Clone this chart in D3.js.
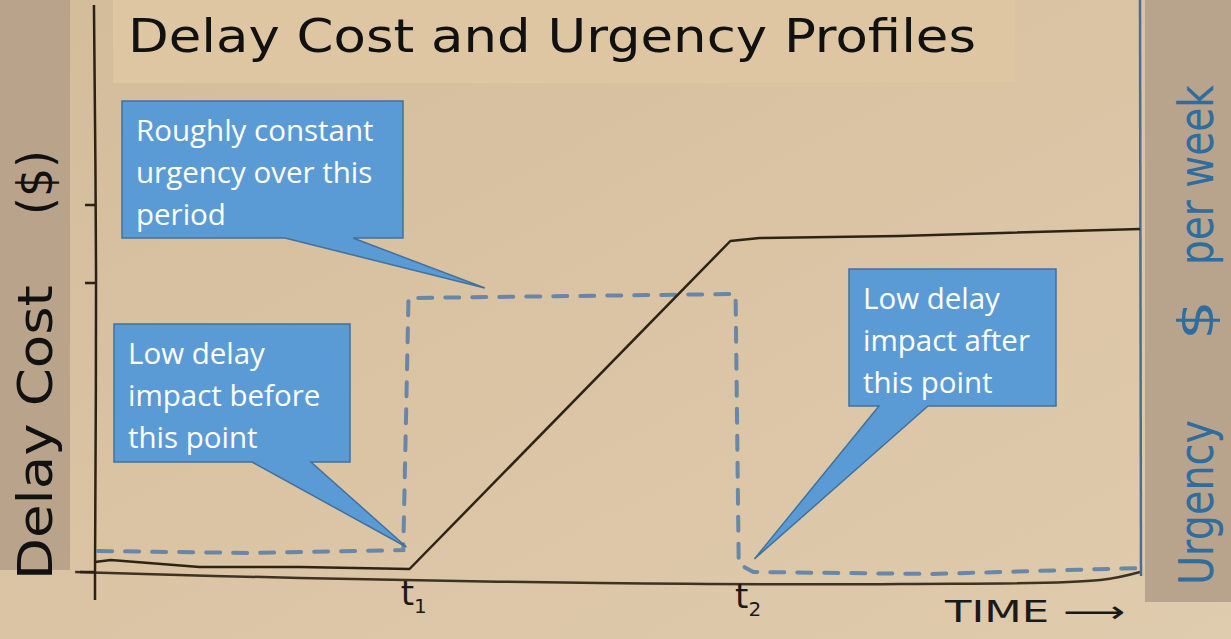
<!DOCTYPE html>
<html>
<head>
<meta charset="utf-8">
<script src="https://cdn.jsdelivr.net/npm/d3@7"></script>
<style>
  html, body { margin: 0; padding: 0; background: #d8c2a2; }
  svg { display: block; }
</style>
</head>
<body>
<svg id="chart" width="1231" height="639"></svg>
<script>
// time runs 0..100 across the sketch, both y series on a 0..100 scale
const delayCost = [
  [0, 2.6], [1.5, 3.0], [10, 1.6], [19.6, 1.6], [30.1, 1.2],
  [60.8, 66.8], [63.6, 67.4], [77, 67.8], [100, 69.2]
];
const urgency = [
  [0.3, 4.8], [15, 4.4], [29.5, 5.0], [30, 55.4],
  [61.3, 56.2], [61.6, 2.2], [63, 0.6], [80, 0.2], [100, 1.4]
];
const timeAxisPts = [[-1.9, 0.6], [19.6, -0.6], [48.3, -1.6], [77, -1.8], [96.2, -1.0], [100, 0.6]];
const costAxisPts = [[-0.1, 114], [0.1, 60], [0, 0], [0, -5]];
const costTicks = [74, 58.4];
const timeTicks = [{ t: 30.5, sub: '1' }, { t: 62.5, sub: '2' }];

const title = 'Delay Cost and Urgency Profiles';
const leftLabel = ['Delay Cost', '($)'];
const rightLabel = ['Urgency', '$', 'per week'];
const timeLabel = 'TIME \u27F6';

const calloutText = [
  ['Roughly constant', 'urgency over this', 'period'],
  ['Low delay', 'impact before', 'this point'],
  ['Low delay', 'impact after', 'this point']
];
const calloutTips = [[37.3, 57.4], [29.8, 5.6], [63.1, 3.2]];

// layout of the callout boxes (px)
const calloutBoxes = [
  { x: 122, y: 101, w: 281, h: 137, b0: 285, b1: 353 },
  { x: 114, y: 324, w: 236, h: 138, b0: 252, b1: 311 },
  { x: 849, y: 269, w: 207, h: 137, b0: 879, b1: 928 }
];
// [start y, end y] of each rotated label piece (px)
const leftSpans = [[580, 285], [215, 150]];
const rightSpans = [[585, 420], [340, 300], [265, 85]];

const svg = d3.select('#chart');
const x = d3.scaleLinear().domain([0, 100]).range([95, 1140]);
const y = d3.scaleLinear().domain([0, 100]).range([575, 75]);

// photo-ish paper background
const defs = svg.append('defs');
const g1 = defs.append('linearGradient').attr('id', 'paper')
  .attr('x1', 0).attr('y1', 0).attr('x2', 1).attr('y2', 1);
g1.append('stop').attr('offset', '0%').attr('stop-color', '#d3bc9a');
g1.append('stop').attr('offset', '50%').attr('stop-color', '#dac4a4');
g1.append('stop').attr('offset', '100%').attr('stop-color', '#dfcbad');
svg.append('rect').attr('width', 1231).attr('height', 639).attr('fill', 'url(#paper)');

svg.append('rect').attr('x', 0).attr('y', 0).attr('width', 70).attr('height', 570).attr('fill', '#b9a48b');
svg.append('rect').attr('x', 1145).attr('y', 0).attr('width', 86).attr('height', 602).attr('fill', '#b8a38d');
svg.append('rect').attr('x', 113).attr('y', 0).attr('width', 902).attr('height', 83).attr('fill', '#ddc6a1');

svg.append('text')
  .attr('x', 128).attr('y', 52)
  .attr('textLength', 848).attr('lengthAdjust', 'spacingAndGlyphs')
  .style('font-family', 'DejaVu Sans')
  .style('font-size', '46px')
  .style('font-weight', 'normal')
  .attr('fill', '#111')
  .text(title);

const rotated = (parts, spans, cx, color) => {
  svg.selectAll(null).data(parts).enter().append('text')
    .attr('transform', (d, i) => `translate(${cx},${spans[i][0]}) rotate(-90)`)
    .attr('textLength', (d, i) => spans[i][0] - spans[i][1])
    .attr('lengthAdjust', 'spacingAndGlyphs')
    .style('font-family', 'DejaVu Sans')
    .style('font-size', '48px')
    .attr('fill', color)
    .text((d) => d);
};
rotated(leftLabel, leftSpans, 52, '#111');
rotated(rightLabel, rightSpans, 1213, '#2f6d9e');

const line = d3.line().x((d) => x(d[0])).y((d) => y(d[1]));
const wobble = d3.line().x((d) => x(d[0])).y((d) => y(d[1])).curve(d3.curveCatmullRom);

// hand drawn axes
svg.append('path').attr('d', wobble(timeAxisPts))
  .attr('fill', 'none').attr('stroke', '#3d3223').attr('stroke-width', 2.5);
svg.append('path').attr('d', wobble(costAxisPts))
  .attr('fill', 'none').attr('stroke', '#2b2117').attr('stroke-width', 2.5);
svg.append('line').attr('x1', 1140).attr('x2', 1141).attr('y1', 0).attr('y2', 576)
  .attr('stroke', '#4d6b98').attr('stroke-width', 2.5);
svg.selectAll('line.ctick').data(costTicks).enter().append('line')
  .attr('class', 'ctick')
  .attr('x1', x(0) - 10).attr('x2', x(0))
  .attr('y1', (d) => y(d)).attr('y2', (d) => y(d))
  .attr('stroke', '#2b2117').attr('stroke-width', 2.5);
svg.append('line').attr('x1', 80).attr('x2', 96).attr('y1', y(0.6)).attr('y2', y(0.6))
  .attr('stroke', '#2b2117').attr('stroke-width', 2.5);

// urgency (dashed) and delay cost (solid)
svg.append('path').attr('d', line(urgency))
  .attr('fill', 'none').attr('stroke', '#5c7fa9').attr('stroke-width', 4)
  .attr('stroke-dasharray', '14 13').attr('stroke-linecap', 'round').attr('opacity', 0.9);
svg.append('path').attr('d', line(delayCost))
  .attr('fill', 'none').attr('stroke', '#2e2416').attr('stroke-width', 2.5)
  .attr('stroke-linejoin', 'round');

// t1, t2 and TIME
const tl = svg.selectAll('text.tt').data(timeTicks).enter().append('text')
  .attr('class', 'tt')
  .attr('x', (d) => x(d.t)).attr('y', (d, i) => 605 + i * 3)
  .attr('text-anchor', 'middle')
  .style('font-family', 'DejaVu Sans')
  .style('font-size', '34px')
  .attr('fill', '#1a1a1a');
tl.append('tspan').text('t');
tl.append('tspan').attr('dy', 8).style('font-size', '20px').text((d) => d.sub);

svg.append('text')
  .attr('x', 945).attr('y', 622)
  .attr('textLength', 180).attr('lengthAdjust', 'spacingAndGlyphs')
  .style('font-family', 'DejaVu Sans')
  .style('font-size', '30px')
  .attr('fill', '#1a1a1a')
  .text(timeLabel);

// callouts
const callouts = calloutBoxes.map((b, i) => ({ box: b, lines: calloutText[i], tip: calloutTips[i] }));
const cg = svg.selectAll('g.callout').data(callouts).enter().append('g').attr('class', 'callout');
cg.append('path')
  .attr('d', (d) => {
    const b = d.box;
    const tx = x(d.tip[0]), ty = y(d.tip[1]);
    return `M${b.x},${b.y}H${b.x + b.w}V${b.y + b.h}H${b.b1}L${tx},${ty}L${b.b0},${b.y + b.h}H${b.x}Z`;
  })
  .attr('fill', '#5b9bd5').attr('stroke', '#41719c').attr('stroke-width', 1.5);
cg.each(function (d) {
  const t = d3.select(this).append('text')
    .style('font-family', 'Open Sans')
    .style('font-size', '29.5px')
    .attr('fill', '#ffffff');
  t.selectAll('tspan').data(d.lines).enter().append('tspan')
    .attr('x', d.box.x + 14)
    .attr('y', (s, j) => d.box.y + 40 + j * 42)
    .text((s) => s);
});
</script>
</body>
</html>
